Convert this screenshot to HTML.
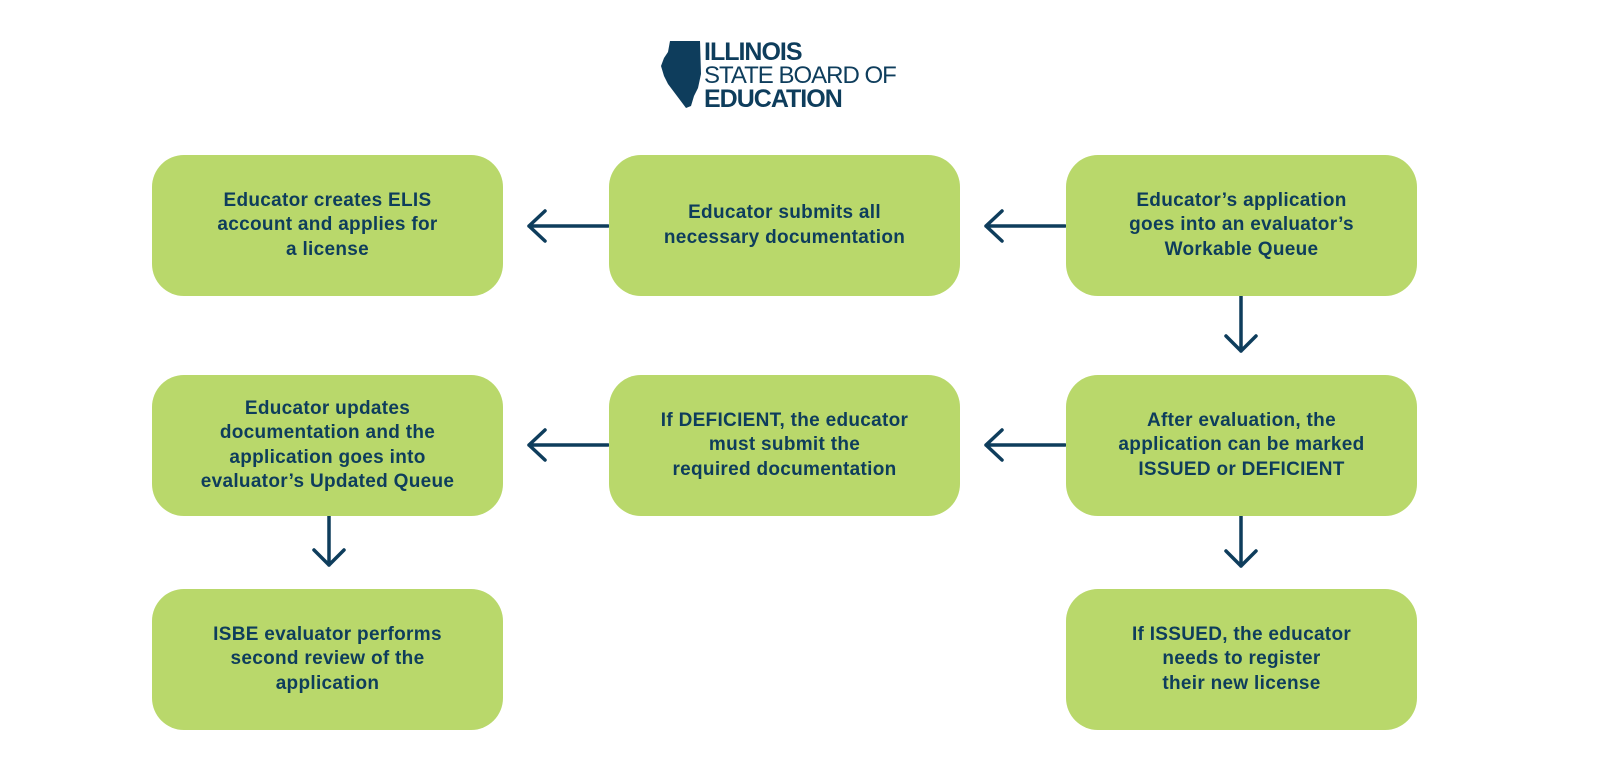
<!DOCTYPE html>
<html><head><meta charset="utf-8"><style>
body{margin:0;width:1600px;height:768px;background:#fff;position:relative;overflow:hidden;font-family:"Liberation Sans",sans-serif}
.b{position:absolute;width:351px;height:141px;background:#b9d86b;border-radius:32px;display:flex;align-items:center;justify-content:center;text-align:center;color:#0e3d5c;font-weight:bold;font-size:19px;line-height:24.5px;box-sizing:border-box;padding:0 5px;white-space:nowrap;letter-spacing:0.3px}
svg{position:absolute;left:0;top:0}
.lg{position:absolute;color:#0e3d5c;left:704px;font-size:24px;line-height:24px}
</style></head><body>
<svg width="1600" height="768">
<path d="M670 41 L700 41 L701 74 L698 88 L694 96 L691 106 L686 108 L680 100 L674 92 L668 84 L664 76 L661 66 L664 58 L668 52 Z" fill="#0e3d5c"/>
<g stroke="#0e3d5c" stroke-width="3.5" fill="none" stroke-linecap="round" stroke-linejoin="round">
<path d="M608 226 H529 M545 211 L529 226 L545 241"/>
<path d="M1065 226 H986 M1002 211 L986 226 L1002 241"/>
<path d="M608 445 H529 M545 430 L529 445 L545 460"/>
<path d="M1065 445 H986 M1002 430 L986 445 L1002 460"/>
<path d="M1241 296 V351 M1226 336 L1241 351 L1256 336"/>
<path d="M1241 516 V566 M1226 551 L1241 566 L1256 551"/>
<path d="M329 516 V565 M314 550 L329 565 L344 550"/>
</g></svg>
<div class="lg" style="top:40px;font-weight:bold;font-size:25px;letter-spacing:-1px">ILLINOIS</div>
<div class="lg" style="top:64px;font-size:24px;letter-spacing:-1px">STATE BOARD OF</div>
<div class="lg" style="top:87px;font-weight:bold;font-size:25px;letter-spacing:-1px">EDUCATION</div>
<div class="b" style="left:152px;top:155px">Educator creates ELIS<br>account and applies for<br>a license</div>
<div class="b" style="left:609px;top:155px">Educator submits all<br>necessary documentation</div>
<div class="b" style="left:1066px;top:155px">Educator’s application<br>goes into an evaluator’s<br>Workable Queue</div>
<div class="b" style="left:152px;top:375px">Educator updates<br>documentation and the<br>application goes into<br>evaluator’s Updated Queue</div>
<div class="b" style="left:609px;top:375px">If DEFICIENT, the educator<br>must submit the<br>required documentation</div>
<div class="b" style="left:1066px;top:375px">After evaluation, the<br>application can be marked<br>ISSUED or DEFICIENT</div>
<div class="b" style="left:152px;top:589px">ISBE evaluator performs<br>second review of the<br>application</div>
<div class="b" style="left:1066px;top:589px">If ISSUED, the educator<br>needs to register<br>their new license</div>
</body></html>
